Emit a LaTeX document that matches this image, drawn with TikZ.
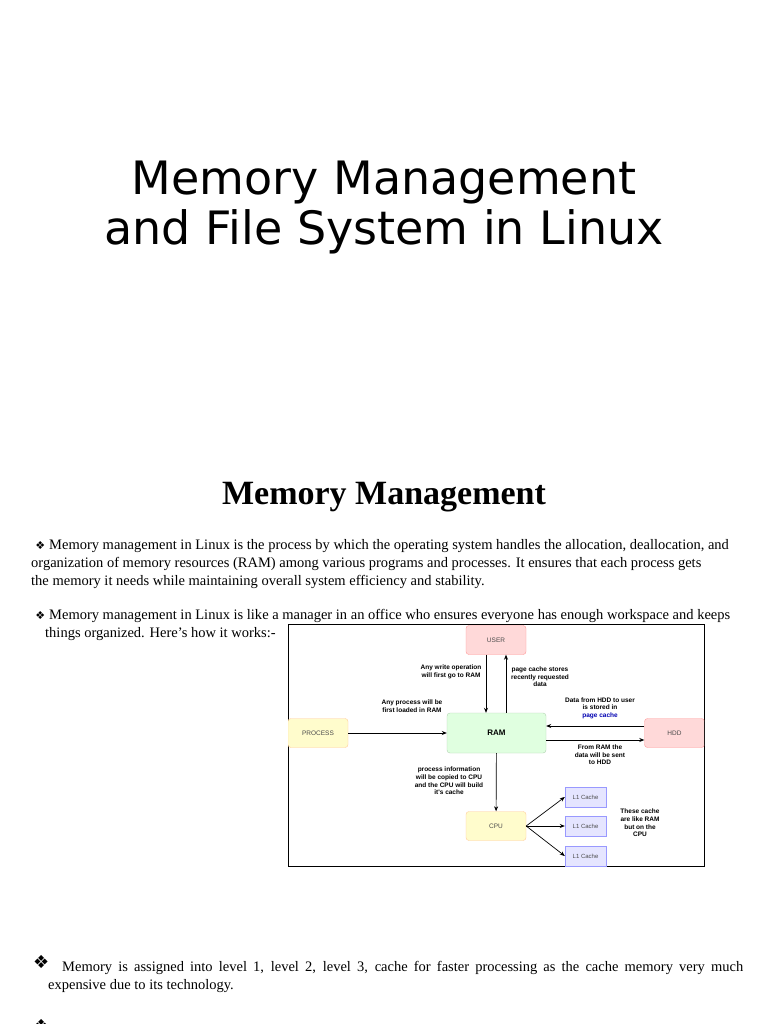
\documentclass[tikz,border=0pt]{standalone}
\usepackage{fontspec}
\setmainfont{Liberation Serif}
\newfontfamily\dv{DejaVu Sans}
\newfontfamily\ls{Liberation Sans}
\usetikzlibrary{arrows.meta}
\begin{document}
\begin{tikzpicture}[x=1pt,y=-1pt,
  body/.style={anchor=base west,inner sep=0pt,font=\fontsize{14.5}{17}\selectfont},
  box/.style={draw,rounded corners=3pt,minimum width=60pt,minimum height=29pt,inner sep=0pt,font=\ls\fontsize{6.5}{7}\selectfont,text=black!70},
  cache/.style={draw=blue!40,fill=blue!10,minimum width=41pt,minimum height=20pt,inner sep=0pt,font=\ls\fontsize{6}{7}\selectfont,text=black!70},
  lbl/.style={align=center,inner sep=0pt,font=\ls\bfseries\fontsize{6.5}{7.6}\selectfont},
  arr/.style={-{Stealth[length=5pt,width=4pt]},line width=0.7pt}]
\useasboundingbox (0,0) rectangle (768,1024);
\fill[white] (0,0) rectangle (768,1024);
\node[align=center,font=\dv\fontsize{46}{50}\selectfont] (title) at (384,208) {Memory Management\\and File System in Linux};
\node[font=\bfseries\fontsize{34}{38}\selectfont] (head) at (384,497) {Memory Management};
\node[body] (b1) at (31,549) {\makebox[18pt][c]{\dv\fontsize{11}{12}\selectfont ❖}Memory management in Linux is the process by which the operating system handles the allocation, deallocation, and};
\node[body] (b1b) at (31,567) {organization of memory resources (RAM) among various programs and processes. It ensures that each process gets};
\node[body] (b1c) at (31,585) {the memory it needs while maintaining overall system efficiency and stability.};
\node[body] (b2) at (31,619) {\makebox[18pt][c]{\dv\fontsize{11}{12}\selectfont ❖}Memory management in Linux is like a manager in an office who ensures everyone has enough workspace and keeps};
\node[body] (b2b) at (45,637) {things organized. Here's how it works:-};
\node[body] (b3s) at (33,968) {\dv\fontsize{18}{20}\selectfont ❖};
\node[body] (b3) at (62,971) {\makebox[681pt][s]{Memory is assigned into level 1, level 2, level 3, cache for faster processing as the cache memory very much}};
\node[body] (b3b) at (48,989) {expensive due to its technology.};
\node[body] (b4s) at (33,1032) {\dv\fontsize{18}{20}\selectfont ❖};
% diagram
\draw[line width=0.8pt] (288,624) rectangle (704,866);
\begin{scope}
\clip (288,624) rectangle (704,866);
\node[box,draw=red!40,fill=red!15] (user) at (496,640) {USER};
\node[box,draw=orange!40,fill=yellow!20] (proc) at (318,733) {PROCESS};
\node[box,draw=green!40!black!30,fill=green!12,minimum width=99pt,minimum height=40pt,font=\ls\bfseries\fontsize{8}{9}\selectfont,text=black] (ram) at (496.5,733) {RAM};
\node[box,draw=red!40,fill=red!15] (hdd) at (674.5,733) {HDD};
\node[box,draw=orange!40,fill=yellow!20] (cpu) at (496,826) {CPU};
\node[cache] (c1) at (585.5,797) {L1 Cache};
\node[cache] (c2) at (585.5,826) {L1 Cache};
\node[cache] (c3) at (585.5,856) {L1 Cache};
\end{scope}
\draw[arr] (user.south -| 486,0) -- (ram.north -| 486,0);
\draw[arr] (ram.north -| 506,0) -- (user.south -| 506,0);
\draw[arr] (proc) -- (ram);
\draw[arr] (hdd.west |- 0,726) -- (ram.east |- 0,726);
\draw[arr] (ram.east |- 0,740) -- (hdd.west |- 0,740);
\draw[arr] (ram) -- (cpu);
\draw[arr] (cpu.east) -- (c1.west);
\draw[arr] (cpu.east) -- (c2.west);
\draw[arr] (cpu.east) -- (c3.west);
\node[lbl] (l1) at (451,672) {Any write operation\\will first go to RAM};
\node[lbl] (l2) at (540,677) {page cache stores\\recently requested\\data};
\node[lbl] (l3) at (412,706) {Any process will be\\first loaded in RAM};
\node[lbl] (l4) at (600,708) {Data from HDD to user\\is stored in\\\textcolor{blue!70!black}{page cache}};
\node[lbl] (l5) at (600,755) {From RAM the\\data will be sent\\to HDD};
\node[lbl] (l6) at (449,781) {process information\\will be copied to CPU\\and the CPU will build\\it's cache};
\node[lbl] (l7) at (640,823) {These cache\\are like RAM\\but on the\\CPU};
\end{tikzpicture}
\end{document}
